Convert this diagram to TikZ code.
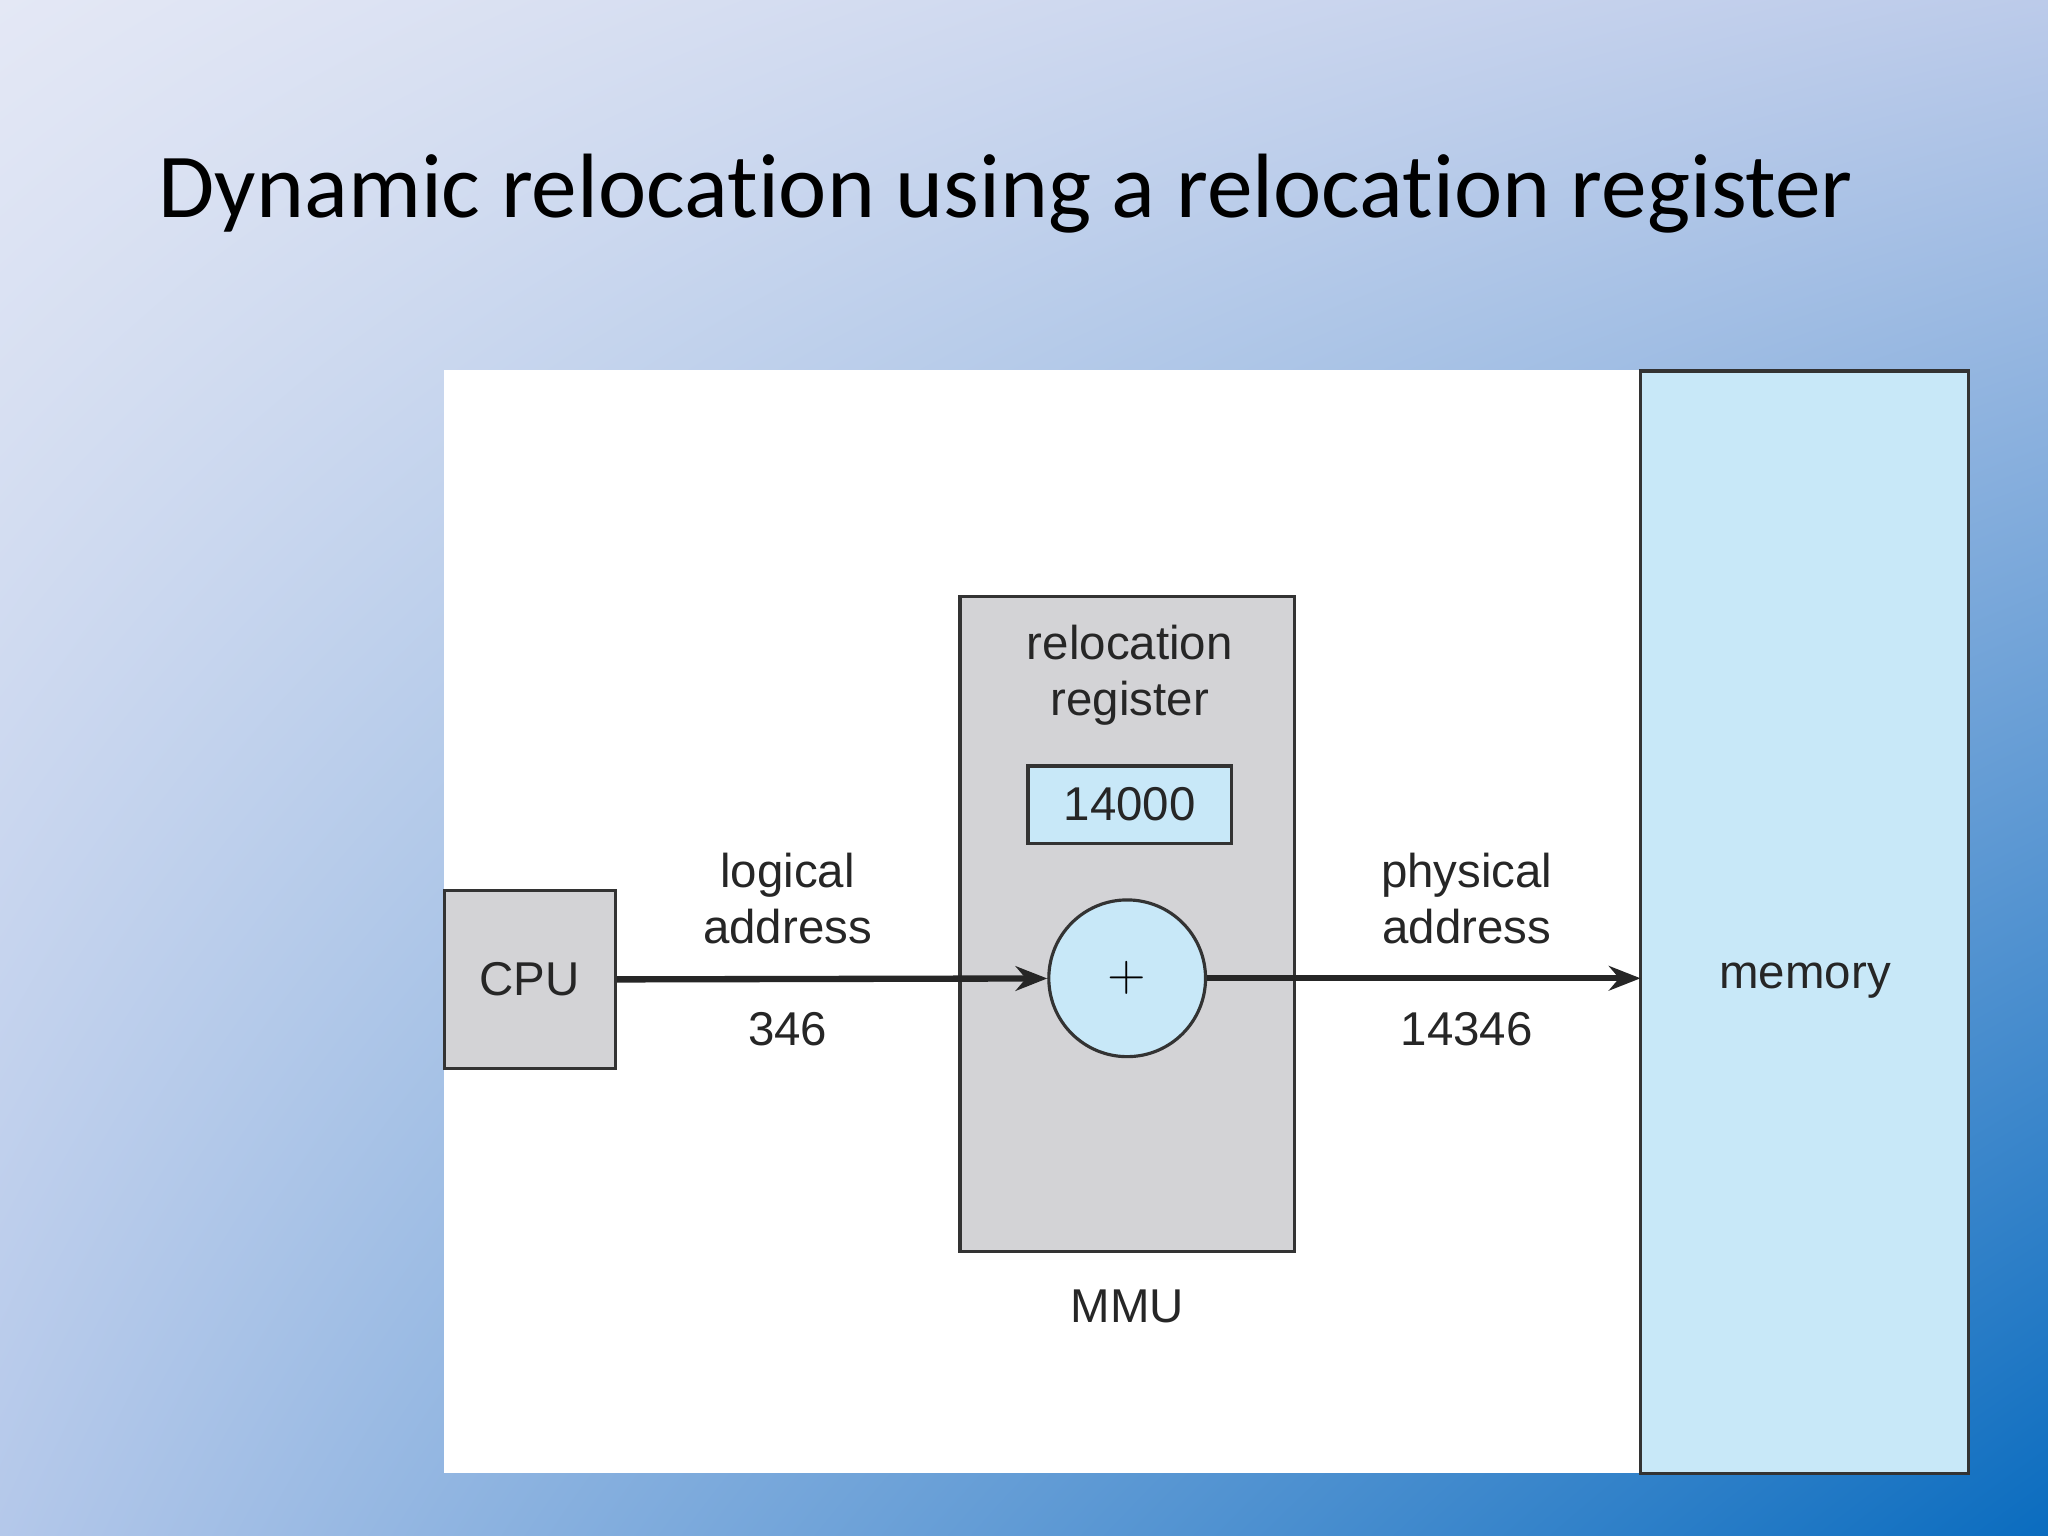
\documentclass[tikz,border=0pt]{standalone}
\usepackage{fontspec}
\setmainfont{Liberation Sans}
\newfontfamily\titlefont{Carlito}[Ligatures={NoCommon}]
\usetikzlibrary{arrows.meta,shadings}
\definecolor{boxgray}{HTML}{D3D3D6}
\definecolor{boxblue}{HTML}{C8E8F8}
\definecolor{bgA}{HTML}{E4E8F5}
\definecolor{bgB}{HTML}{BCCBEA}
\definecolor{bgC}{HTML}{B4C8EA}
\definecolor{bgD}{HTML}{0A6CBF}
\begin{document}
\begin{tikzpicture}[x=0.01306cm,y=-0.01306cm,>={Stealth[length=9pt,width=7pt]},
    box/.style={draw=black!80,line width=0.9pt},
    lbl/.style={font=\fontsize{13.5}{16}\selectfont,text=black!85,align=center}]
  % background
  \shade[upper left=bgA,upper right=bgB,lower left=bgC,lower right=bgD]
    (0,0) rectangle (1568,1176);
  \node[anchor=west,font=\titlefont\fontsize{26}{30}\selectfont] (title) at (112,148)
    {Dynamic relocation using a relocation register};
  \fill[white] (340,283) rectangle (1256,1128);
  % boxes
  \draw[box,fill=boxblue] (1256,284) rectangle (1507,1128);
  \node[lbl] (mem) at (1382,751) {memory};
  \draw[box,fill=boxgray] (735,457) rectangle (991,958);
  \node[lbl] (mmu) at (863,1000) {MMU};
  \node[lbl] (relreg) at (865,517) {relocation\\register};
  \node[box,fill=boxblue,lbl,minimum width=156*0.01306cm,minimum height=59*0.01306cm]
    (reg) at (865,616) {14000};
  \node[box,fill=boxgray,lbl,minimum width=131*0.01306cm,minimum height=136*0.01306cm]
    (cpu) at (405.5,750) {CPU};
  \node[box,circle,fill=boxblue,minimum size=120*0.01306cm,inner sep=0pt,
    font=\fontsize{14}{16}\selectfont] (plus) at (863,749) {$+$};
  \coordinate (memin) at (1256,749);
  % connectors
  \draw[->,line width=1.8pt,black!85] (cpu) -- (plus);
  \draw[->,line width=1.8pt,black!85] (plus) -- (memin);
  \node[lbl] (logical) at (603,688) {logical\\address};
  \node[lbl] (lval) at (603,788) {346};
  \node[lbl] (physical) at (1123,688) {physical\\address};
  \node[lbl] (pval) at (1123,788) {14346};
\end{tikzpicture}
\end{document}
